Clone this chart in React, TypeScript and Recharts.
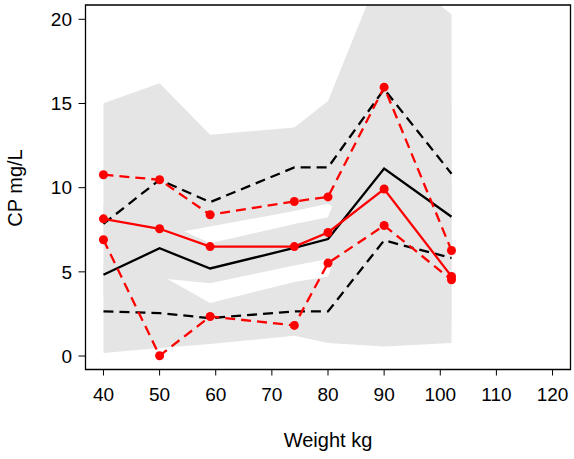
import { Area, ComposedChart, Line, ReferenceArea, XAxis, YAxis } from "recharts"

// bin midpoints (kg)
const weight = [40, 50, 59, 74, 80, 90, 102]

// observed percentiles
const obsP95 = [10.77, 10.47, 8.39, 9.18, 9.45, 15.97, 6.27]
const obsP50 = [8.15, 7.56, 6.5, 6.5, 7.34, 9.92, 4.73]
const obsP05 = [6.91, 0.02, 2.35, 1.82, 5.52, 7.75, 4.53]

// simulated percentiles
const simP95 = [7.85, 10.47, 9.14, 11.2, 11.2, 15.85, 10.83]
const simP50 = [4.83, 6.4, 5.2, 6.42, 6.95, 11.14, 8.27]
const simP05 = [2.65, 2.55, 2.25, 2.65, 2.65, 6.87, 5.82]

// confidence bands of the simulated percentiles
const ci05Lo = [0.18, 0.48, 0.72, 1.2, 0.77, 0.57, 0.77]
const ci05Hi = [5.5, 4.85, 3.15, 4.39, 4.73, 14, 10]
const ci50Lo = [3.5, 4.62, 4.33, 5.38, 5.76, 1, 2]
const ci50Hi = [9, 8.09, 6.7, 7.84, 8.25, 17, 15]
const ci95Lo = [7, 7.14, 7.7, 8.61, 9.05, 7, 8]
const ci95Hi = [15.02, 16.2, 13.14, 13.58, 15.15, 23.4, 20.3]

const xTicks = [40, 50, 60, 70, 80, 90, 100, 110, 120]
const yTicks = [0, 5, 10, 15, 20]

const data = weight.map((w, i) => ({
  w,
  obsP95: obsP95[i],
  obsP50: obsP50[i],
  obsP05: obsP05[i],
  simP95: simP95[i],
  simP50: simP50[i],
  simP05: simP05[i],
  band05: [ci05Lo[i], ci05Hi[i]],
  band50: [ci50Lo[i], ci50Hi[i]],
  band95: [ci95Lo[i], ci95Hi[i]],
}))

const font = "'Liberation Sans', Arial, sans-serif"
const grey = "#e5e5e5"
const dash = "10 6"
const redDot = { r: 4.5, fill: "#ff0000", stroke: "none" }

export default function App() {
  return (
    <div style={{ position: "absolute", left: 0, top: 0, width: 574, height: 459, background: "#fff", fontFamily: font }}>
      <ComposedChart width={574} height={459} data={data} margin={{ top: 5, right: 3.5, left: 25.5, bottom: 29.5 }}>
        <XAxis
          dataKey="w"
          type="number"
          domain={[36.8, 123.2]}
          ticks={xTicks}
          interval={0}
          height={60}
          axisLine={false}
          tickSize={6}
          tickMargin={12.5}
          tickLine={{ stroke: "#000" }}
          tick={{ fill: "#000", fontSize: 19, fontFamily: font }}
        />
        <YAxis
          type="number"
          domain={[-0.8, 20.85]}
          allowDataOverflow
          ticks={yTicks}
          interval={0}
          width={60}
          axisLine={false}
          tickSize={7}
          tickMargin={6.5}
          tickLine={{ stroke: "#000" }}
          tick={{ fill: "#000", fontSize: 19, fontFamily: font }}
        />
        <Area type="linear" dataKey="band95" stroke="none" fill={grey} fillOpacity={1} isAnimationActive={false} />
        <Area type="linear" dataKey="band50" stroke="none" fill={grey} fillOpacity={1} isAnimationActive={false} />
        <Area type="linear" dataKey="band05" stroke="none" fill={grey} fillOpacity={1} isAnimationActive={false} />
        <Line type="linear" dataKey="simP95" stroke="#000" strokeWidth={2.3} strokeDasharray={dash} dot={false} isAnimationActive={false} />
        <Line type="linear" dataKey="simP50" stroke="#000" strokeWidth={2.3} dot={false} isAnimationActive={false} />
        <Line type="linear" dataKey="simP05" stroke="#000" strokeWidth={2.3} strokeDasharray={dash} dot={false} isAnimationActive={false} />
        <Line type="linear" dataKey="obsP95" stroke="#ff0000" strokeWidth={2.3} strokeDasharray={dash} dot={redDot} isAnimationActive={false} />
        <Line type="linear" dataKey="obsP50" stroke="#ff0000" strokeWidth={2.3} dot={redDot} isAnimationActive={false} />
        <Line type="linear" dataKey="obsP05" stroke="#ff0000" strokeWidth={2.3} strokeDasharray={dash} dot={redDot} isAnimationActive={false} />
        <ReferenceArea x1={36.8} x2={123.2} y1={-0.8} y2={20.85} fill="none" stroke="#000" strokeWidth={1.3} ifOverflow="visible" />
      </ComposedChart>
      <svg width={574} height={459} style={{ position: "absolute", left: 0, top: 0, pointerEvents: "none" }}>
        <text x={15} y={188} transform="rotate(-90 15 188)" textAnchor="middle" dominantBaseline="central" fontSize={20} fontFamily={font} fill="#000">
          CP mg/L
        </text>
        <text x={328} y={447} textAnchor="middle" fontSize={20} fontFamily={font} fill="#000">
          Weight kg
        </text>
      </svg>
    </div>
  )
}
